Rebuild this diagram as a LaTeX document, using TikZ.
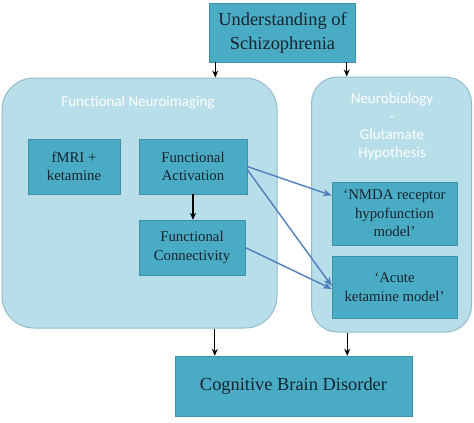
\documentclass[tikz,border=0pt]{standalone}
\usepackage{fontspec}
\setmainfont{Liberation Serif}
\newfontfamily\titlefont{Carlito}
\usetikzlibrary{arrows.meta}
\definecolor{boxfill}{HTML}{4AABC5}
\definecolor{contfill}{HTML}{B8DEE9}
\definecolor{contdraw}{HTML}{93BCCB}
\definecolor{boxtext}{HTML}{17242E}
\definecolor{bluearrow}{HTML}{4F7FBC}
\tikzset{
  stepbox/.style={rectangle, fill=boxfill, draw=boxfill!85!black, line width=0.4pt, text=boxtext, align=center, inner sep=0pt},
  container/.style={rectangle, fill=contfill, draw=contdraw, line width=1pt, inner sep=0pt},
  titletext/.style={text=white, align=center, font=\titlefont\fontsize{15}{18}\selectfont},
  blackarrow/.style={-{Stealth[length=7pt,width=6pt]}, line width=1.3pt, black},
  bluearr/.style={-{Stealth[length=9pt,width=7pt]}, line width=1.4pt, bluearrow},
  bigtext/.style={font=\fontsize{18.4}{24}\selectfont},
  smalltext/.style={font=\fontsize{14.8}{18.5}\selectfont}
}
\begin{document}
\begin{tikzpicture}[x=1pt,y=-1pt]
\useasboundingbox (0,0) rectangle (474,423);
\fill[white] (0,0) rectangle (474,423);
% containers
\node[container, rounded corners=32pt, minimum width=275pt, minimum height=250pt] (left) at (139.5,203) {};
\node[container, rounded corners=26pt, minimum width=160pt, minimum height=255pt] (right) at (391.5,204.5) {};
% titles
\node[titletext] (lt) at (138,103) {Functional Neuroimaging};
\node[titletext] (rt) at (392,126) {Neurobiology\\-\\Glutamate\\Hypothesis};
% boxes
\node[stepbox, bigtext, minimum width=146pt, minimum height=59pt] (top) at (282.5,32.5) {Understanding of\\Schizophrenia};
\node[stepbox, smalltext, minimum width=92pt, minimum height=55pt] (fmri) at (74,166.5) {fMRI +\\ketamine};
\node[stepbox, smalltext, minimum width=108pt, minimum height=55pt] (fa) at (193,166.5) {Functional\\Activation};
\node[stepbox, smalltext, minimum width=106pt, minimum height=55pt] (fc) at (192,247.5) {Functional\\Connectivity};
\node[stepbox, smalltext, minimum width=125pt, minimum height=63pt] (nmda) at (394.5,213.5) {‘NMDA receptor\\hypofunction\\model’};
\node[stepbox, smalltext, minimum width=125pt, minimum height=62pt] (acute) at (394.5,287) {‘Acute\\ketamine model’};
\node[stepbox, bigtext, minimum width=237pt, minimum height=60pt] (bot) at (293.5,386) {Cognitive Brain Disorder};
% black arrows
\draw[blackarrow] ([xshift=6pt]top.south west) -- ([xshift=6pt]top.south west |- left.north);
\draw[blackarrow] ([xshift=-9pt]top.south east) -- ([xshift=-9pt]top.south east |- right.north);
\draw[blackarrow] (fa.south) -- (fa.south |- fc.north);
\draw[blackarrow] ([xshift=40pt]bot.north west |- left.south) -- ([xshift=40pt]bot.north west);
\draw[blackarrow] ([xshift=-65pt]bot.north east |- right.south) -- ([xshift=-65pt]bot.north east);
% blue arrows
\draw[bluearr] (fa.east) -- ([yshift=18pt]nmda.west);
\draw[bluearr] ([yshift=-3pt]fa.east) -- ([yshift=1pt]acute.west);
\draw[bluearr] (fc.east) -- ([yshift=-2pt]acute.west);
\end{tikzpicture}
\end{document}
